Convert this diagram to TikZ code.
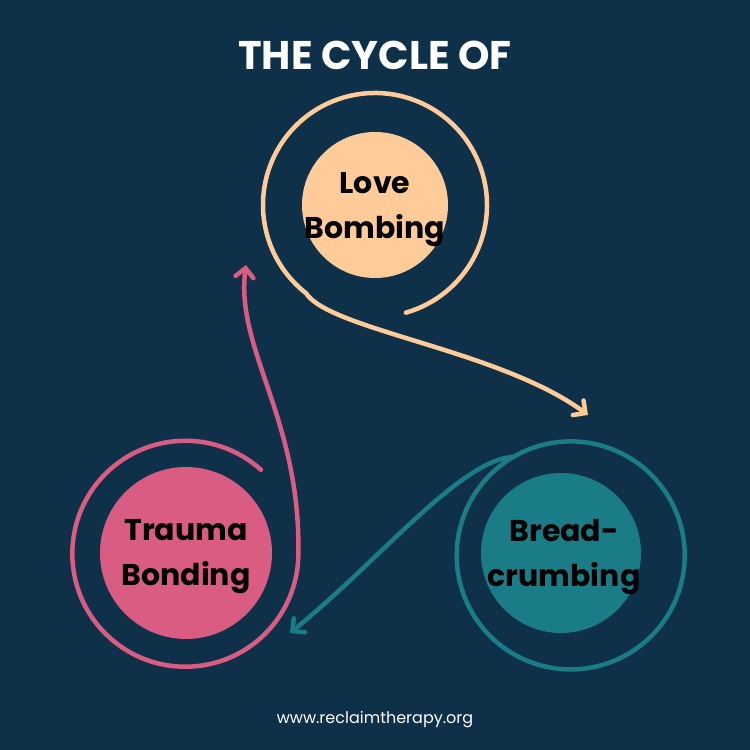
\documentclass[tikz,border=0pt]{standalone}
\usepackage{fontspec}
\setmainfont{Poppins}
\usetikzlibrary{arrows.meta}
\definecolor{bg}{HTML}{0E3049}
\definecolor{peach}{HTML}{FFCC99}
\definecolor{pinkc}{HTML}{D95C82}
\definecolor{tealc}{HTML}{197C87}
\begin{document}
\begin{tikzpicture}[x=1pt,y=1pt,
  orbit/.style={line width=4.5pt,line cap=round,-{Straight Barb[length=9pt,width=18pt,line cap=round]}},
  disc/.style={circle,minimum size=#1,inner sep=0pt},
  lbl/.style={align=center,font=\fontsize{30}{45}\selectfont\bfseries,text=black}]
\fill[bg] (0,0) rectangle (750,750);
\useasboundingbox (0,0) rectangle (750,750);
\node[text=white,font=\fontsize{40}{46}\selectfont\bfseries] (title) at (375,695) {THE CYCLE OF};
\node[disc=146pt,fill=peach] (love) at (375,545) {};
\node[disc=172pt,fill=pinkc] (trauma) at (186,197) {};
\node[disc=160pt,fill=tealc] (bread) at (561,197) {};
\node[lbl] (lovet) at (375,540) {Love\\Bombing};
\node[lbl] (traumat) at (186,193) {Trauma\\Bonding};
\node[lbl] (breadt) at (564,193) {Bread-\\crumbing};
\node[text=white,font=\fontsize{16}{20}\selectfont] (web) at (375,30) {www.reclaimtherapy.org};
\coordinate (a1) at (588,335);
\coordinate (a2) at (290,117);
\coordinate (a3) at (246,485);
\draw[orbit,peach] (love.center) ++(-74:112) arc[start angle=-74,end angle=232,radius=112]
  .. controls (330,420) and (500,400) .. (a1);
\draw[orbit,pinkc] (trauma.center) ++(48:112) arc[start angle=48,end angle=358,radius=113]
  .. controls (302,330) and (235,400) .. (a3);
\draw[orbit,tealc] (bread.center) ++(166:104) arc[start angle=166,end angle=-240,radius=114]
  .. controls (460,290) and (380,190) .. (a2);
\end{tikzpicture}
\end{document}
